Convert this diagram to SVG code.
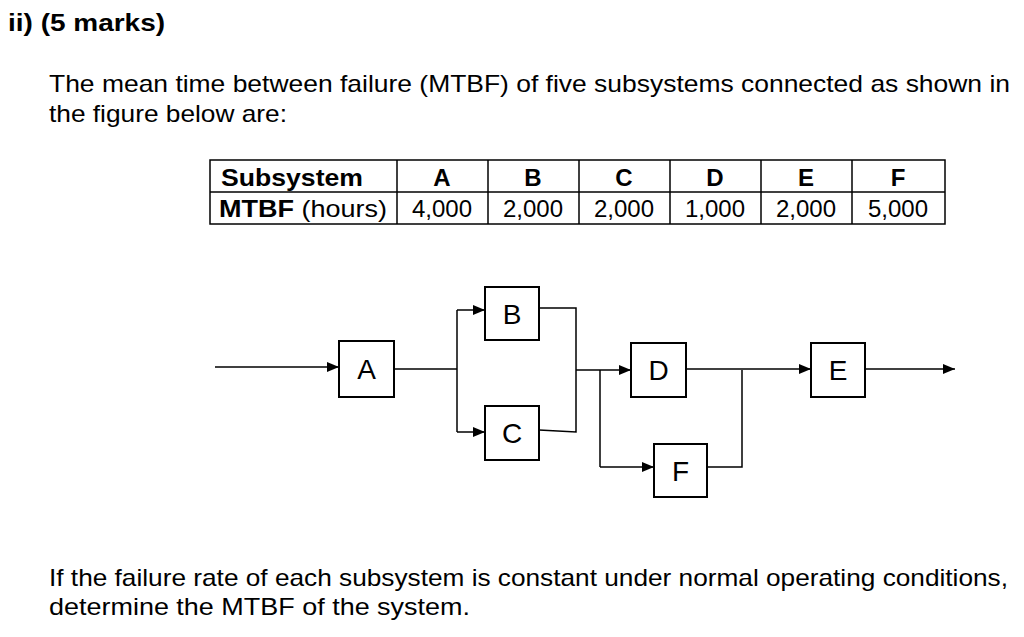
<svg xmlns="http://www.w3.org/2000/svg" width="1024" height="637" viewBox="0 0 1024 637">
<style>
text{font-family:"Liberation Sans",Arial,sans-serif;fill:#000}
.p{font-size:24px}
.t{font-size:24px;text-anchor:middle}
.b{font-weight:bold}
.box{fill:#fff;stroke:#000;stroke-width:2}
.n{font-size:28px;text-anchor:middle}
.c{fill:none;stroke:#000;stroke-width:1.5}
.g{stroke:#000;stroke-width:1.5}
</style>
<defs><marker id="ar" markerWidth="12" markerHeight="10" refX="12" refY="5" orient="auto" markerUnits="userSpaceOnUse"><path d="M0,0L12,5L0,10z" fill="#000"/></marker></defs>
<rect width="1024" height="637" fill="#fff"/>
<text x="8" y="31" class="p b" textLength="157" lengthAdjust="spacingAndGlyphs">ii)  (5 marks)</text>
<text x="49" y="92" class="p" textLength="961" lengthAdjust="spacingAndGlyphs">The mean time between failure (MTBF) of five subsystems connected as shown in</text>
<text x="49" y="122" class="p" textLength="238" lengthAdjust="spacingAndGlyphs">the figure below are:</text>
<g id="table">
<rect x="210" y="160" width="735" height="64" fill="none" class="g"/>
<line x1="210" y1="192" x2="945" y2="192" class="g"/>
<g class="g"><line x1="397" y1="160" x2="397" y2="224"/><line x1="488" y1="160" x2="488" y2="224"/><line x1="579" y1="160" x2="579" y2="224"/><line x1="670" y1="160" x2="670" y2="224"/><line x1="761" y1="160" x2="761" y2="224"/><line x1="852" y1="160" x2="852" y2="224"/></g>
<text x="221" y="186" class="p b" textLength="142" lengthAdjust="spacingAndGlyphs">Subsystem</text>
<text x="442" y="186" class="t b">A</text><text x="533" y="186" class="t b">B</text><text x="624" y="186" class="t b">C</text><text x="715" y="186" class="t b">D</text><text x="806" y="186" class="t b">E</text><text x="898" y="186" class="t b">F</text>
<text x="219" y="217" class="p" textLength="168" lengthAdjust="spacingAndGlyphs"><tspan class="b">MTBF</tspan> (hours)</text>
<text x="442" y="217" class="t">4,000</text><text x="533" y="217" class="t">2,000</text><text x="624" y="217" class="t">2,000</text><text x="715" y="217" class="t">1,000</text><text x="806" y="217" class="t">2,000</text><text x="898" y="217" class="t">5,000</text>
</g>
<g id="connectors">
<line x1="215" y1="367" x2="339" y2="367" class="c" marker-end="url(#ar)"/>
<polyline points="394,369 457,369" class="c"/>
<line x1="457" y1="310" x2="457" y2="432" class="c"/>
<line x1="457" y1="310" x2="485" y2="310" class="c" marker-end="url(#ar)"/>
<line x1="457" y1="432" x2="485" y2="432" class="c" marker-end="url(#ar)"/>
<polyline points="539,308 576,308 576,432 539,430" class="c"/>
<line x1="576" y1="370" x2="631" y2="370" class="c" marker-end="url(#ar)"/>
<polyline points="600,370 600,467" class="c"/>
<line x1="600" y1="467" x2="654" y2="467" class="c" marker-end="url(#ar)"/>
<line x1="686" y1="369" x2="811" y2="369" class="c" marker-end="url(#ar)"/>
<polyline points="707,467 742,467 742,370" class="c"/>
<line x1="865" y1="369" x2="955" y2="369" class="c" marker-end="url(#ar)"/>
</g>
<g id="A"><rect x="339" y="341" width="55" height="56" class="box"/><text x="366.5" y="379" class="n">A</text></g>
<g id="B"><rect x="485" y="287" width="54" height="53" class="box"/><text x="512" y="324" class="n">B</text></g>
<g id="C"><rect x="485" y="406" width="54" height="54" class="box"/><text x="512" y="443" class="n">C</text></g>
<g id="D"><rect x="631" y="343" width="55" height="54" class="box"/><text x="658.5" y="380" class="n">D</text></g>
<g id="F"><rect x="654" y="444" width="53" height="53" class="box"/><text x="680.5" y="481" class="n">F</text></g>
<g id="E"><rect x="811" y="343" width="54" height="54" class="box"/><text x="838" y="380" class="n">E</text></g>
<text x="49" y="586" class="p" textLength="959" lengthAdjust="spacingAndGlyphs">If the failure rate of each subsystem is constant under normal operating conditions,</text>
<text x="49" y="615" class="p" textLength="421" lengthAdjust="spacingAndGlyphs">determine the MTBF of the system.</text>
</svg>
